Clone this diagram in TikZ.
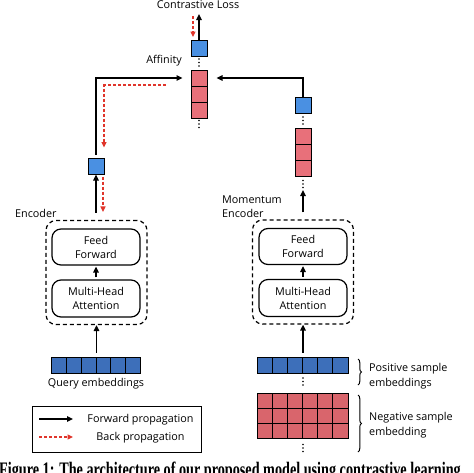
\documentclass[tikz,border=0pt]{standalone}
\usepackage{fontspec}
\setmainfont{Open Sans}
\newfontfamily\capfont{Liberation Serif}
\usetikzlibrary{arrows.meta,decorations.pathreplacing,calc}
\definecolor{qblue}{HTML}{4A90E2}
\definecolor{eblue}{HTML}{3D6FBA}
\definecolor{cred}{HTML}{E8707A}
\definecolor{nred}{HTML}{D9656C}
\definecolor{bred}{HTML}{E0352B}
\tikzset{
  lbl/.style={font=\fontsize{10.8}{14}\selectfont, inner sep=0pt},
  fwd/.style={line width=1.6pt, -{Triangle[length=6pt,width=5.5pt]}},
  bwd/.style={draw=bred, line width=1.2pt, dash pattern=on 3pt off 2pt, -{Triangle[length=5.5pt,width=5pt,fill=bred]}},
  encbox/.style={draw, line width=1.2pt, dash pattern=on 4pt off 3pt, rounded corners=10pt, minimum width=101pt, minimum height=104pt, inner sep=0pt},
  blk/.style={draw, line width=1.2pt, rounded corners=9pt, minimum width=88pt, minimum height=36pt, align=center, inner sep=0pt, font=\fontsize{10.8}{14}\selectfont},
  qsq/.style={draw, line width=1pt, fill=qblue, minimum width=16pt, minimum height=16pt, inner sep=0pt},
  acell/.style={draw, line width=1pt, fill=cred, minimum width=16pt, minimum height=16pt, inner sep=0pt},
  ecell/.style={draw, line width=1pt, fill=eblue, minimum width=14.9pt, minimum height=16pt, inner sep=0pt},
  ncell/.style={draw, line width=1pt, fill=nred, minimum width=15.17pt, minimum height=15pt, inner sep=0pt},
  brc/.style={draw, line width=1pt, decorate, decoration={brace, amplitude=3.5pt}},
  vd/.pic={\foreach \k in {-3.5,0,3.5} \fill (0,\k) circle (0.8);}
}
\begin{document}
\begin{tikzpicture}[x=1pt,y=-1pt]
\useasboundingbox (0,0) rectangle (474,472);
\fill[white] (0,0) rectangle (474,472);

% ---- top: affinity ----
\node[lbl, anchor=base] (loss) at (198,8.5) {Contrastive Loss};
\node[qsq] (q1) at (199,48) {};
\pic at (199,62.5) {vd};
\foreach \i in {1,2,3} \node[acell] (a\i) at (199,{70+16*(\i-0.5)}) {};
\pic at (199,124) {vd};
\node[lbl, anchor=base east] (aff) at (182,63.5) {Affinity};
\coordinate (lossin) at (199,14);
\coordinate (lossb1) at (193,16);
\coordinate (lossb2) at (193,37);
\draw[fwd] (q1.north) -- (lossin);
\draw[bwd] (lossb1) -- (lossb2);

% ---- left branch ----
\node[qsq] (q2) at (96,166) {};
\node[encbox] (encL) at (96.5,272.5) {};
\node[blk] (ffL) at (96,247) {Feed\\Forward};
\node[blk, minimum height=37pt] (mhL) at (96,298.5) {Multi-Head\\Attention};
\node[lbl, anchor=base west] (encLt) at (15,217) {Encoder};
\foreach \i in {1,...,6} \node[ecell] (qe\i) at ({51.3+14.9*(\i-0.5)},365) {};
\node[lbl, anchor=base] (qet) at (96,386) {Query embeddings};

\draw[fwd] ([yshift=3pt]q2.north) |- ([xshift=-8pt]a1.west);
\draw[bwd] ([xshift=-25pt,yshift=-7pt]a1.west) -| ([xshift=8pt,yshift=10pt]q2.north);
\draw[fwd] ([yshift=7pt]encL.north -| q2.south) -- (q2.south);
\draw[bwd] ([xshift=7pt,yshift=-2pt]q2.south) -- ([xshift=7pt,yshift=8pt]encL.north -| q2.south);
\draw[fwd, shorten >=1pt, shorten <=2pt] (mhL.north) -- (ffL.south);
\draw[fwd] ([yshift=4pt]qe3.north east) -- (encL.south -| qe3.north east);

% ---- right branch ----
\node[qsq] (q3) at (303,105) {};
\pic at (303,120.5) {vd};
\foreach \i in {1,2,3} \node[acell] (b\i) at (303,{128+16*(\i-0.5)}) {};
\pic at (303,184) {vd};
\coordinate (rtip) at (303,190);
\draw[fwd] (q3.north) |- ([xshift=9pt]a1.east);

\node[encbox] (encR) at (303,272) {};
\node[blk] (ffR) at (303,246.5) {Feed\\Forward};
\node[blk, minimum height=37pt] (mhR) at (303,298) {Multi-Head\\Attention};
\node[lbl, anchor=north west, align=left] (encRt) at (222,195.3) {Momentum\\Encoder};
\draw[fwd] ([yshift=7pt]encR.north) -- (rtip);
\draw[fwd, shorten >=1pt, shorten <=2pt] (mhR.north) -- (ffR.south);

\foreach \i in {1,...,6} \node[ecell, minimum width=15.17pt] (pe\i) at ({257+15.17*(\i-0.5)},365) {};
\pic at (303,381.5) {vd};
\foreach \r in {1,2,3} \foreach \i in {1,...,6}
  \node[ncell] (ne\r\i) at ({257+15.17*(\i-0.5)},{393+15*(\r-0.5)}) {};
\pic at (303,448) {vd};
\draw[fwd] ([yshift=4pt]pe3.north east) -- (encR.south -| pe3.north east);

\coordinate (br1a) at (358,359);
\coordinate (br1b) at (358,385);
\coordinate (br2a) at (358,395);
\coordinate (br2b) at (358,452);
\draw[brc] (br1a) -- (br1b);
\draw[brc] (br2a) -- (br2b);
\node[lbl, anchor=north west, align=left, font=\fontsize{10.8}{15}\selectfont] (post) at (369,362.8) {Positive sample\\embeddings};
\node[lbl, anchor=north west, align=left, font=\fontsize{10.8}{15}\selectfont] (negt) at (369,411.8) {Negative sample\\embedding};

% ---- legend ----
\node[draw, line width=1pt, minimum width=169pt, minimum height=46pt, inner sep=0pt] (leg) at (116.5,429) {};
\coordinate (lf1) at (39,419);
\coordinate (lf2) at (73,419);
\coordinate (lb1) at (39,437);
\coordinate (lb2) at (73,437);
\draw[fwd, line width=1.3pt] (lf1) -- (lf2);
\draw[bwd] (lb1) -- (lb2);
\node[lbl, anchor=base] (lft) at (140.5,422) {Forward propagation};
\node[lbl, anchor=base] (lbt) at (140.5,440) {Back propagation};

% ---- caption (cut off at the lower edge, as in the reference) ----
\node[anchor=base west, inner sep=0pt, font=\capfont\bfseries\fontsize{14.2}{17}\selectfont] (cap) at (-1,476) {\scalebox{1}[1.45]{Figure 1: The architecture of our proposed model using contrastive learning}};
\end{tikzpicture}
\end{document}
